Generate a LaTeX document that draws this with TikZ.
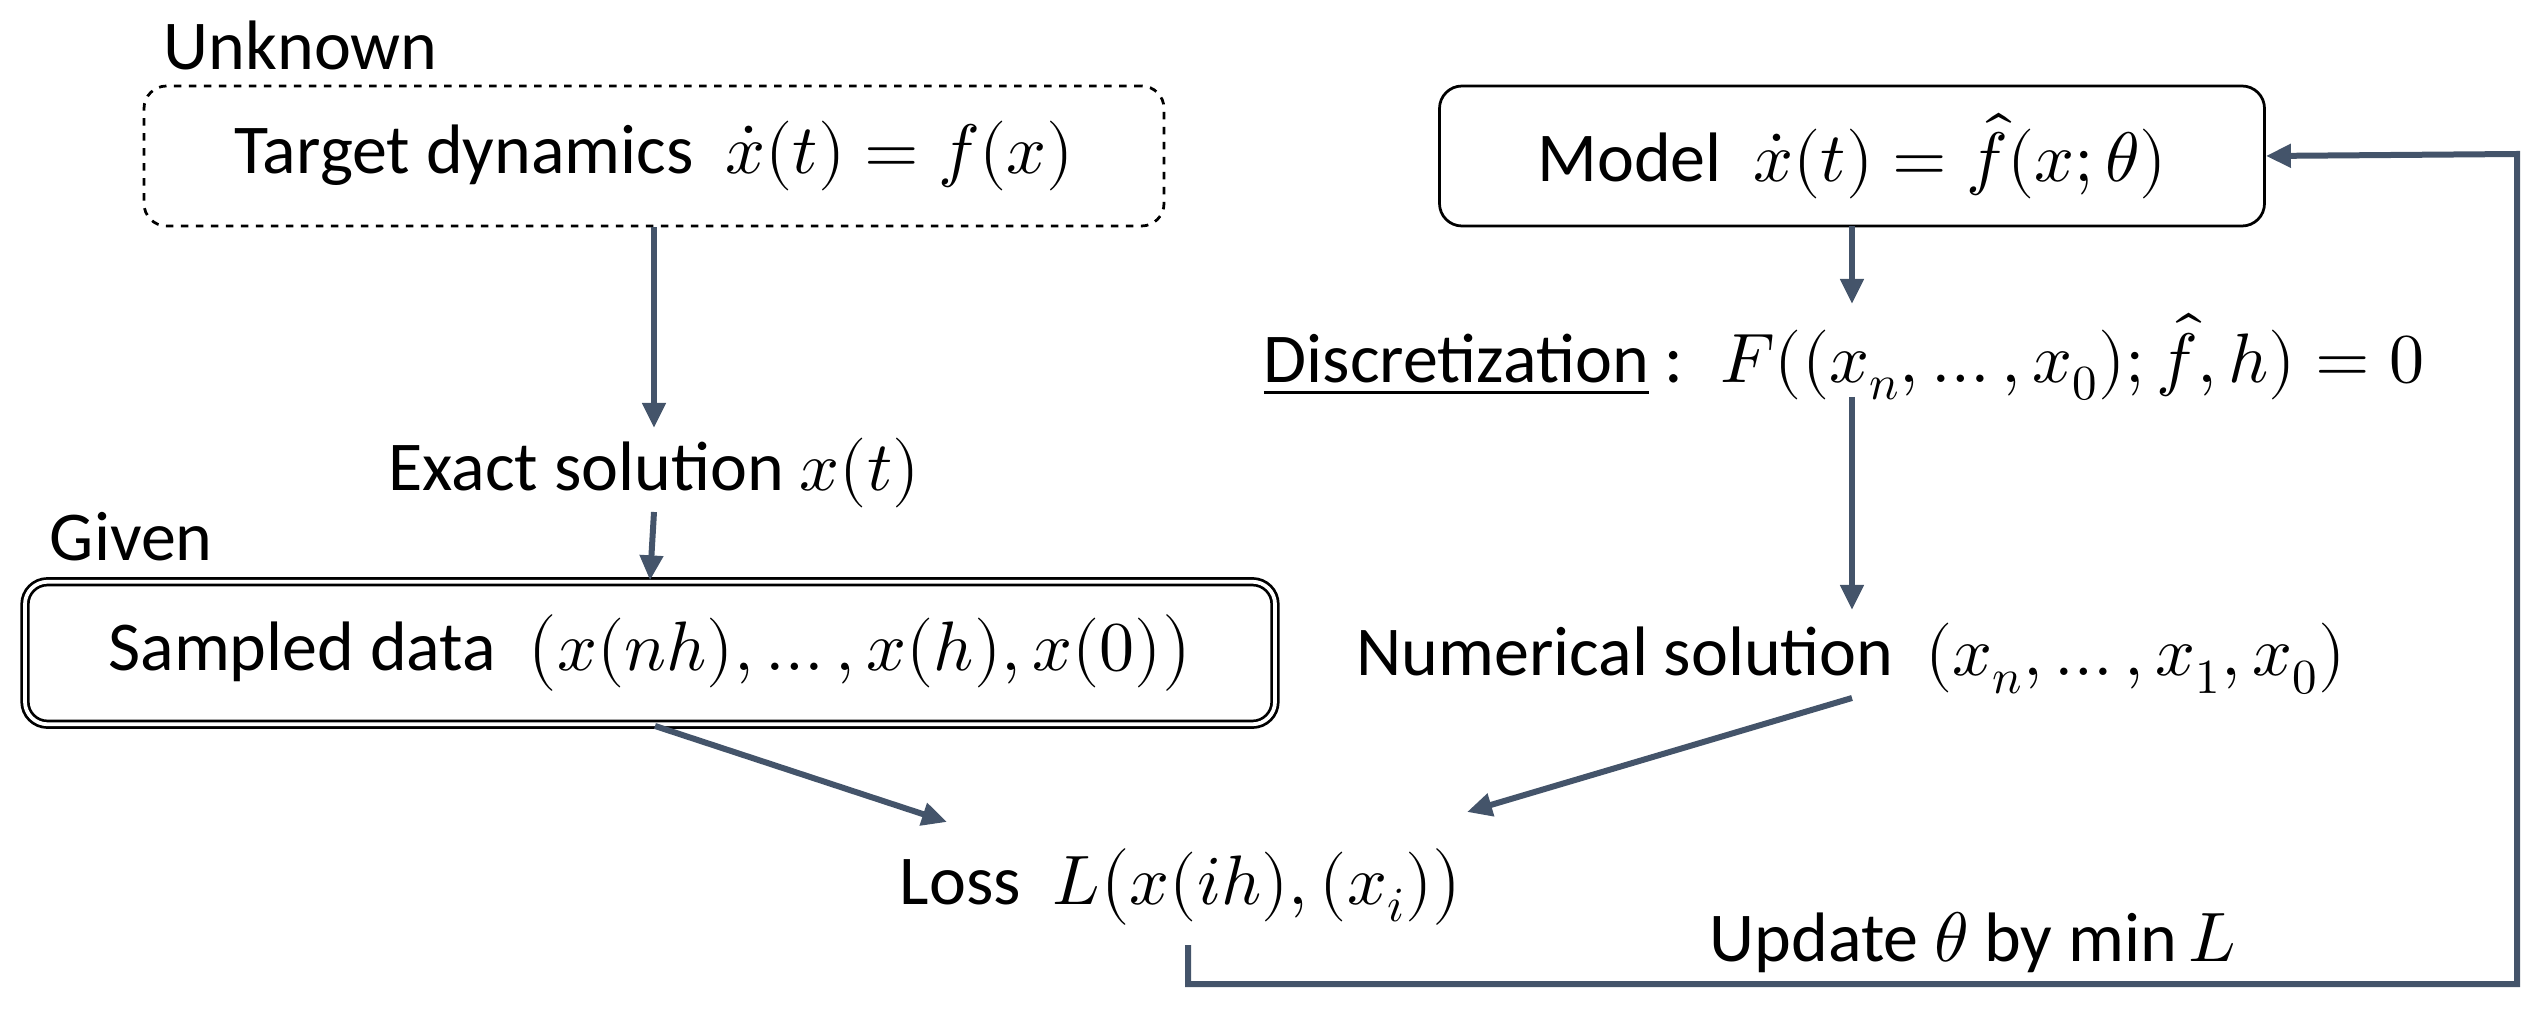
\documentclass[tikz,border=0pt]{standalone}
\usepackage{amsmath}
\usepackage{fontspec}
\usepackage{unicode-math}
\setmainfont{Carlito}
\setmathfont{Latin Modern Math}
\usetikzlibrary{arrows.meta}
\definecolor{slate}{RGB}{68,84,106}
\begin{document}
\fontsize{28}{34}\selectfont
\begin{tikzpicture}[x=0.4pt,y=0.4pt,yscale=-1,xscale=1,
  flow/.style={draw=slate,line width=2.4pt,-{Triangle[length=10pt,width=9pt]}},
  box/.style={draw,rounded corners=9pt,line width=1.1pt,minimum height=56pt,inner sep=0pt}]
\useasboundingbox (0,0) rectangle (2533,1011);
% Text Node
\node [anchor=west] (unk) at (140,45) {Unknown};
\node [anchor=west] (giv) at (26,537) {Given};
% Boxes
\node [box,dashed,minimum width=408pt] (target) at (654,156) {Target dynamics \ $\dot{x}(t)=f(x)$};
\node [box,minimum width=330pt] (model) at (1852,156) {Model \ $\dot{x}(t)=\hat{f}(x;\theta)$};
\node [box,double,double distance=1.5pt,minimum width=500pt,minimum height=57pt] (data) at (650,653) {Sampled data \ $\bigl(x(nh),\dots,x(h),x(0)\bigr)$};
% Text Node
\node (exact) at (654,473) {Exact solution $x(t)$};
\node (disc) at (1844,357) {\underline{Discretization} : \ $F((x_n,\dots,x_0);\hat{f},h)=0$};
\node (num) at (1851,659) {Numerical solution \ $(x_n,\dots,x_1,x_0)$};
\node (loss) at (1181,887) {Loss \ $L\bigl(x(ih),(x_i)\bigr)$};
\node (upd) at (1973,942) {Update $\theta$ by $\min L$};
\coordinate (c1) at (1188,984);
\coordinate (c2) at (2517,984);
\coordinate (c3) at (2517,154);
% Arrows
\draw [flow] (target.south) -- (654,428);
\draw [flow] (654,512) -- (data.north);
\draw [flow] (1852,226) -- (1852,304);
\draw [flow] (1852,397) -- (1852,610);
\draw [flow] (655,726) -- (947,822);
\draw [flow] (1852,698) -- (1467,812);
\draw [flow] (1188,945) -- (c1) -- (c2) -- (c3) -- (model.east);
\end{tikzpicture}
\end{document}
